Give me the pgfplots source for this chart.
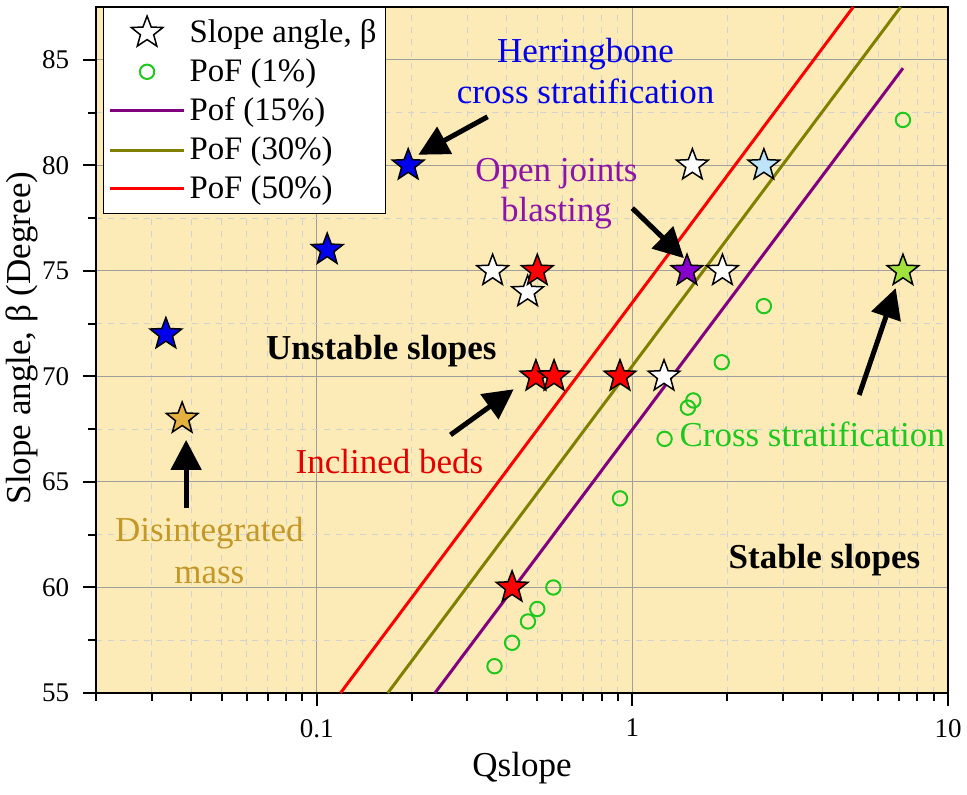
\documentclass[border=0pt]{standalone}
\usepackage{fontspec}
\setmainfont{Liberation Serif}
\usepackage{pgfplots}
\pgfplotsset{compat=1.18}
\usetikzlibrary{arrows.meta}

\definecolor{bgyellow}{RGB}{252,235,182}
\definecolor{lnpurple}{RGB}{128,0,128}
\definecolor{lnolive}{RGB}{128,128,0}
\definecolor{lnred}{RGB}{255,0,0}
\definecolor{cgreen}{RGB}{30,200,30}
\definecolor{sblue}{RGB}{0,0,235}
\definecolor{sgold}{RGB}{228,176,64}
\definecolor{tgold}{RGB}{195,152,40}
\definecolor{spurple}{RGB}{136,0,204}
\definecolor{tpurple}{RGB}{140,20,170}
\definecolor{slblue}{RGB}{190,228,250}
\definecolor{slime}{RGB}{160,225,60}

% filled five-pointed star
\pgfdeclareplotmark{fstar}{%
  \pgfpathmoveto{\pgfpointpolar{90}{\pgfplotmarksize}}%
  \pgfpathlineto{\pgfpointpolar{126}{0.42*\pgfplotmarksize}}%
  \pgfpathlineto{\pgfpointpolar{162}{\pgfplotmarksize}}%
  \pgfpathlineto{\pgfpointpolar{198}{0.42*\pgfplotmarksize}}%
  \pgfpathlineto{\pgfpointpolar{234}{\pgfplotmarksize}}%
  \pgfpathlineto{\pgfpointpolar{270}{0.42*\pgfplotmarksize}}%
  \pgfpathlineto{\pgfpointpolar{306}{\pgfplotmarksize}}%
  \pgfpathlineto{\pgfpointpolar{342}{0.42*\pgfplotmarksize}}%
  \pgfpathlineto{\pgfpointpolar{18}{\pgfplotmarksize}}%
  \pgfpathlineto{\pgfpointpolar{54}{0.42*\pgfplotmarksize}}%
  \pgfpathclose
  \pgfusepathqfillstroke}

\newcommand{\annfont}{\fontsize{17.5}{21}\selectfont}

\begin{document}
\begin{tikzpicture}
	\begin{axis}[
		width=426pt, height=343pt, scale only axis,
		xmode=log,
		xmin=0.02, xmax=10,
		ymin=55, ymax=87.5,
		axis background/.style={fill=bgyellow},
		axis line style={line width=1.3pt},
		xtick={0.1,1,10},
		xticklabels={0.1,1,10},
		minor xtick={0.02,0.03,0.04,0.05,0.06,0.07,0.08,0.09,
			0.2,0.3,0.4,0.5,0.6,0.7,0.8,0.9,
			2,3,4,5,6,7,8,9},
		ytick={55,60,65,70,75,80,85},
		minor ytick={57.5,62.5,67.5,72.5,77.5,82.5},
		/pgf/number format/assume math mode=true,
		tick align=outside,
		xtick pos=left, ytick pos=left,
		major tick length=6.5pt, minor tick length=4pt,
		tick style={line width=1pt, black},
		grid=both,
		major grid style={line width=0.5pt, gray!75},
		minor grid style={line width=0.4pt, dashed, gray!35},
		ticklabel style={font=\fontsize{13.5}{16}\selectfont},
		xticklabel style={yshift=-3pt},
		yticklabel style={xshift=-3.5pt},
		xlabel={Qslope},
		ylabel={Slope angle, β (Degree)},
		label style={font=\annfont},
		xlabel style={at={(axis description cs:0.5,-0.122)}, anchor=base},
		ylabel style={at={(axis description cs:-0.087,0.5175)}, anchor=center},
		legend style={at={(axis description cs:0.0082,1)}, anchor=north west,
			draw=black, line width=0.6pt, fill=white,
			font=\fontsize{16.4}{19}\selectfont, row sep=2.6pt,
			inner xsep=2.5pt, inner ysep=4pt},
		legend cell align=left,
		legend image code/.code={%
			\draw[mark repeat=2,mark phase=2,#1] plot coordinates {(0pt,0pt) (18.5pt,0pt) (37pt,0pt)};},
		]

		% white stars (legend series)
		\addplot[only marks, mark=fstar, mark size=8.3pt,
			mark options={draw=black, line width=0.75pt, fill=white}]
			coordinates {(0.361,75) (0.466,74) (1.26,70) (1.93,75) (1.55,80)};
		\addlegendentry{Slope angle, β}

		% green circles, PoF 1%
		\addplot[only marks, mark=o, mark size=3.6pt,
			mark options={draw=cgreen, line width=1pt, fill=white}]
			coordinates {
				(7.2,82.15) (2.61,73.33) (1.92,70.67) (1.56,68.86)
				(1.50,68.52) (1.265,67.04) (0.914,64.22) (0.562,60.0)
				(0.50,58.98) (0.467,58.39) (0.416,57.38) (0.366,56.27)};
		\addlegendentry{PoF (1\%)}

		% coloured stars
		\addplot[forget plot, only marks, mark=fstar, mark size=8.3pt,
			mark options={draw=black, line width=0.75pt, fill=sblue}]
			coordinates {(0.0333,72) (0.108,76) (0.195,80)};
		\addplot[forget plot, only marks, mark=fstar, mark size=8.3pt,
			mark options={draw=black, line width=0.75pt, fill=sgold}]
			coordinates {(0.0375,68)};
		\addplot[forget plot, only marks, mark=fstar, mark size=8.3pt,
			mark options={draw=black, line width=0.75pt, fill=red}]
			coordinates {(0.50,75) (0.495,70) (0.565,70) (0.914,70) (0.416,60)};
		\addplot[forget plot, only marks, mark=fstar, mark size=8.3pt,
			mark options={draw=black, line width=0.75pt, fill=spurple}]
			coordinates {(1.49,75)};
		\addplot[forget plot, only marks, mark=fstar, mark size=8.3pt,
			mark options={draw=black, line width=0.75pt, fill=slblue}]
			coordinates {(2.61,80)};
		\addplot[forget plot, only marks, mark=fstar, mark size=8.3pt,
			mark options={draw=black, line width=0.75pt, fill=slime}]
			coordinates {(7.2,75)};

		% PoF lines
		\addplot[lnpurple, line width=1.5pt, no marks]
			coordinates {(0.237,55) (7.2,84.6)};
		\addlegendentry{Pof (15\%)}
		\addplot[lnolive, line width=1.5pt, no marks]
			coordinates {(0.168,55) (7.08,87.5)};
		\addlegendentry{PoF (30\%)}
		\addplot[lnred, line width=1.5pt, no marks]
			coordinates {(0.119,55) (5.01,87.5)};
		\addlegendentry{PoF (50\%)}

		% arrows
		\draw[line width=2.5pt, -{Triangle[length=15pt,width=15pt]}]
			(axis cs:0.348,82.3) -- (axis cs:0.210,80.5);
		\draw[line width=2.5pt, -{Triangle[length=15pt,width=15pt]}]
			(axis cs:1.0,77.97) -- (axis cs:1.457,75.6);
		\draw[line width=2.5pt, -{Triangle[length=15pt,width=15pt]}]
			(axis cs:0.0386,63.75) -- (axis cs:0.0386,66.99);
		\draw[line width=2.5pt, -{Triangle[length=15pt,width=15pt]}]
			(axis cs:0.2655,67.23) -- (axis cs:0.421,69.39);
		\draw[line width=2.5pt, -{Triangle[length=15pt,width=15pt]}]
			(axis cs:5.23,69.12) -- (axis cs:6.83,74.18);

		% annotations
		\node[anchor=base, text=sblue, font=\annfont, inner sep=0pt] at (axis cs:0.711,84.86) {Herringbone};
		\node[anchor=base, text=sblue, font=\annfont, inner sep=0pt] at (axis cs:0.711,82.91) {cross stratification};
		\node[anchor=base, text=tpurple, font=\annfont, inner sep=0pt] at (axis cs:0.575,79.23) {Open joints};
		\node[anchor=base, text=tpurple, font=\annfont, inner sep=0pt] at (axis cs:0.575,77.34) {blasting};
		\node[anchor=base, font=\annfont\bfseries, inner sep=0pt] at (axis cs:0.1604,70.78) {Unstable slopes};
		\node[anchor=base, font=\annfont\bfseries, inner sep=0pt] at (axis cs:4.06,60.91) {Stable slopes};
		\node[anchor=base, text=red!90!black, font=\annfont, inner sep=0pt] at (axis cs:0.170,65.41) {Inclined beds};
		\node[anchor=base, text=tgold, font=\annfont, inner sep=0pt] at (axis cs:0.0457,62.17) {Disintegrated};
		\node[anchor=base, text=tgold, font=\annfont, inner sep=0pt] at (axis cs:0.0457,60.2) {mass};
		\node[anchor=base, text=cgreen, font=\annfont, inner sep=0pt] at (axis cs:3.715,66.67) {Cross stratification};
	\end{axis}
	\pgfresetboundingbox
	\path (-48pt,-50.5pt) rectangle (435.5pt,346.5pt);
\end{tikzpicture}
\end{document}
